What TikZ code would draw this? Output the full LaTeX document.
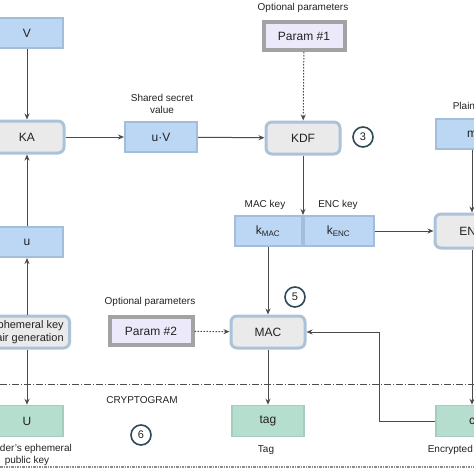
\documentclass[tikz,border=0pt]{standalone}
\usepackage{fontspec}
\setmainfont{Liberation Sans}
\usetikzlibrary{positioning,arrows.meta}
\definecolor{keyblue}{HTML}{BCD7F4}
\definecolor{keyedge}{HTML}{A2BEDA}
\definecolor{procgray}{HTML}{EAEAEA}
\definecolor{procedge}{HTML}{AAC3D9}
\definecolor{outgreen}{HTML}{B5DECE}
\definecolor{outedge}{HTML}{A5CDBE}
\definecolor{parfill}{HTML}{ECEAFA}
\definecolor{paredge}{HTML}{A3A3A3}
\definecolor{numedge}{HTML}{2E4A58}
\definecolor{ink}{HTML}{222222}
\definecolor{wire}{HTML}{4A4A4A}

\begin{document}
\begin{tikzpicture}[x=1pt, y=1pt, >={Stealth[length=6pt,width=5pt]},
  font=\fontsize{12}{14}\selectfont, text=ink,
  key/.style = {draw=keyedge, line width=2pt, fill=keyblue, minimum width=72pt, minimum height=30pt, inner sep=0pt},
  proc/.style = {draw=procedge, line width=3pt, fill=procgray, rounded corners=6pt, minimum width=74pt, minimum height=32pt, inner sep=0pt, align=center},
  outbox/.style = {draw=outedge, line width=1.5pt, fill=outgreen, minimum width=72pt, minimum height=31pt, inner sep=0pt},
  param/.style = {draw=paredge, line width=4pt, fill=parfill, minimum width=81pt, minimum height=28pt, inner sep=0pt},
  lbl/.style = {font=\fontsize{10}{12.5}\selectfont, align=center, inner sep=1pt},
  num/.style = {draw=numedge, circle, line width=1.6pt, minimum size=20pt, inner sep=0pt, font=\fontsize{11}{12}\selectfont},
  wire/.style = {draw=wire, line width=1pt},
  opt/.style = {wire, dash pattern=on 1.5pt off 1.5pt}]

\useasboundingbox (0,0) rectangle (474,-474);
\clip (0,0) rectangle (474,-474);

% separators
\coordinate (sepL) at (0,-384);
\coordinate (sepR) at (474,-384);
\coordinate (botL) at (0,-467);
\coordinate (botR) at (474,-467);
\draw[draw=black!70, line width=0.8pt, dash pattern=on 7pt off 2pt on 1pt off 2pt] (sepL) -- (sepR);
\draw[draw=black!45, line width=1.2pt, dash pattern=on 2.5pt off 1pt on 1pt off 1pt] (botL) -- (botR);

% sender side
\node[key] (V) at (27,-33) {V};
\node[proc] (KA) at (27,-137) {KA};
\node[key] (u) at (27,-242) {u};
\node[proc, minimum width=85pt, font=\fontsize{11}{13}\selectfont] (gen) at (27,-332) {Ephemeral key\\pair generation};
\node[outbox] (U) at (27,-421) {U};
\node[lbl] (Ulbl) at (27,-455) {Sender's ephemeral\\public key};

\node[key] (uV) at (161,-137) {u·V};
\node[lbl] (uVlbl) at (162,-104) {Shared secret\\value};

% key derivation
\node[param] (p1) at (304,-36) {Param \#1};
\node[lbl] (p1lbl) at (303,-8) {Optional parameters};
\node[proc] (KDF) at (303,-138) {KDF};
\node[num] (n3) at (363,-137) {3};

\node[key, minimum width=67pt] (kMAC) at (268,-231) {k\textsubscript{MAC}};
\node[key, minimum width=70pt] (kENC) [right=0pt of kMAC] {k\textsubscript{ENC}};
\node[lbl] (kMAClbl) at (265,-205) {MAC key};
\node[lbl] (kENClbl) at (338,-205) {ENC key};

% encryption
\node[key] (m) at (472,-134) {m};
\node[lbl] (mlbl) at (472,-106) {Plaintext};
\node[proc, minimum height=34pt] (ENC) at (472,-231) {ENC};

% tag
\node[param, minimum width=83pt] (p2) at (151,-331) {Param \#2};
\node[lbl] (p2lbl) at (150,-302) {Optional parameters};
\node[proc] (MAC) at (268,-332) {MAC};
\node[num] (n5) at (295,-297) {5};

% cryptogram
\node[lbl] (crypt) at (142,-400) {CRYPTOGRAM};
\node[num] (n6) at (141,-435) {6};
\node[outbox] (tag) at (268,-421) {tag};
\node[lbl] (taglbl) at (266,-450) {Tag};
\node[outbox] (c) at (472,-421) {c};
\node[lbl] (clbl) at (472,-450) {Encrypted message};

\draw[wire,->] (V) -- (KA);
\draw[wire,->] (u) -- (KA);
\draw[wire,->] (gen) -- (u);
\draw[wire,->] (gen) -- (U);
\draw[wire,->] (KA) -- (uV);
\draw[wire,->] (uV) -- (KDF);
\draw[opt,->] (p1) -- (KDF);
\draw[wire,->] (KDF.south) -- (KDF.south |- kMAC.north);
\draw[wire,->] (kENC) -- (ENC);
\draw[wire,->] (m) -- (ENC);
\draw[wire,->] (kMAC) -- (MAC);
\draw[opt,->] (p2) -- (MAC);
\draw[wire,->] (MAC) -- (tag);
\draw[wire,->] (ENC) -- (c);
\draw[wire,->] (c.west) -- ++(-56,0) |- (MAC.east);

\end{tikzpicture}
\end{document}
